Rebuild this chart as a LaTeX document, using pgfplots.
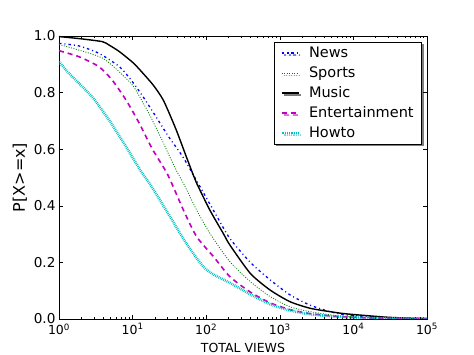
\documentclass[border=0pt]{standalone}
\usepackage{fontspec}
\setmainfont{DejaVu Sans}
\usepackage{pgfplots}
\pgfplotsset{compat=1.18}
\usetikzlibrary{shadows}
\definecolor{mblue}{rgb}{0,0,1}
\definecolor{mgreen}{rgb}{0,0.5,0}
\definecolor{mmag}{rgb}{0.75,0,0.75}
\definecolor{mcyan}{rgb}{0,0.75,0.75}
\begin{document}
\begin{tikzpicture}
\begin{axis}[
  name=ax,
  scale only axis, width=368pt, height=283pt,
  xmode=log, xmin=1, xmax=100000, ymin=0, ymax=1,
  xtick={1,10,100,1000,10000,100000},
  xticklabels={10\textsuperscript{0},10\textsuperscript{1},10\textsuperscript{2},10\textsuperscript{3},10\textsuperscript{4},10\textsuperscript{5}},
  ytick={0,0.2,0.4,0.6,0.8,1},
  yticklabel style={/pgf/number format/fixed,/pgf/number format/fixed zerofill,/pgf/number format/precision=1,/pgf/number format/assume math mode=true,font=\fontsize{13.6}{15}\selectfont},
  tick align=inside, major tick length=4pt, minor tick length=2pt,
  tick style={black, line width=0.5pt},
  axis line style={line width=0.8pt},
  xticklabel style={font=\fontsize{12.5}{14}\selectfont, yshift=-1pt},
  xlabel={TOTAL VIEWS},
  xlabel style={font=\fontsize{12.5}{14}\selectfont, at={(axis description cs:0.5,-0.120)}, anchor=base},
  ylabel={P[X>=x]},
  ylabel style={font=\fontsize{16}{18}\selectfont, at={(axis description cs:-0.0924,0.5)}, anchor=base},
  legend style={at={(0.986,0.979)}, anchor=north east, font=\fontsize{14.5}{16}\selectfont,
    draw=black, fill=white,
    drop shadow={shadow xshift=2pt, shadow yshift=-2pt, opacity=0.5, fill=black},
    nodes={inner sep=2pt, text height=11pt, text depth=3pt}, row sep=2pt, column sep=7pt, inner xsep=6pt, inner ysep=2pt},
  legend cell align=left,
  every axis plot/.append style={smooth, tension=0.4},
]
\addplot[mblue, line width=1.3pt, dash pattern=on 2.5pt off 3pt on 1pt off 3pt] coordinates {
(1,0.974)(1.86,0.965)(3.47,0.939)(6.6,0.892)(9.5,0.845)(13.5,0.79)(20.4,0.718)(30.9,0.644)(47.9,0.574)(70,0.50)(138,0.365)(209,0.285)(398,0.2)(741,0.138)(1380,0.085)(2570,0.049)(4790,0.026)(8130,0.014)(30000,0.004)(100000,0.001)};
\addlegendentry{News}
\addplot[mgreen, line width=0.8pt, dash pattern=on 1pt off 1.5pt] coordinates {
(1,0.97)(3.89,0.922)(8.91,0.84)(11,0.81)(16.6,0.727)(25.1,0.632)(38.9,0.527)(49,0.48)(74.1,0.385)(112,0.303)(209,0.203)(398,0.132)(741,0.079)(1380,0.043)(2570,0.026)(6000,0.012)(20000,0.004)(100000,0.001)};
\addlegendentry{Sports}
\addplot[black, line width=1.4pt] coordinates {
(1,0.998)(2,0.99)(3.89,0.98)(4.79,0.968)(6.6,0.945)(10,0.907)(12.6,0.88)(19,0.827)(26.3,0.772)(38.9,0.67)(52.5,0.58)(67.6,0.505)(74.1,0.48)(112,0.385)(170,0.303)(209,0.262)(398,0.161)(741,0.102)(1380,0.061)(2570,0.038)(4790,0.026)(8130,0.018)(30000,0.006)(100000,0.001)};
\addlegendentry{Music}
\addplot[mmag, line width=1.6pt, dash pattern=on 5pt off 4pt] coordinates {
(1,0.948)(1.86,0.927)(3.47,0.892)(5.25,0.845)(8.13,0.774)(12.3,0.692)(18.6,0.6)(30,0.51)(49,0.385)(74.1,0.291)(126,0.22)(209,0.15)(398,0.095)(741,0.057)(1380,0.033)(2570,0.019)(6000,0.009)(20000,0.003)(100000,0.001)};
\addlegendentry{Entertainment}
\addplot[mcyan, line width=2.6pt, dash pattern=on 0.8pt off 1pt] coordinates {
(1,0.909)(1.37,0.868)(2.82,0.785)(4.79,0.703)(8.13,0.609)(13.5,0.515)(17.4,0.475)(32.4,0.361)(53.7,0.267)(91.2,0.185)(130,0.155)(209,0.128)(398,0.087)(741,0.052)(1380,0.03)(2570,0.017)(6000,0.008)(20000,0.003)(100000,0.001)};
\addlegendentry{Howto}
\end{axis}
\pgfresetboundingbox
\path[use as bounding box] (ax.south west) ++(-59pt,-36pt) rectangle ++(474pt,355pt);
\end{tikzpicture}
\end{document}
